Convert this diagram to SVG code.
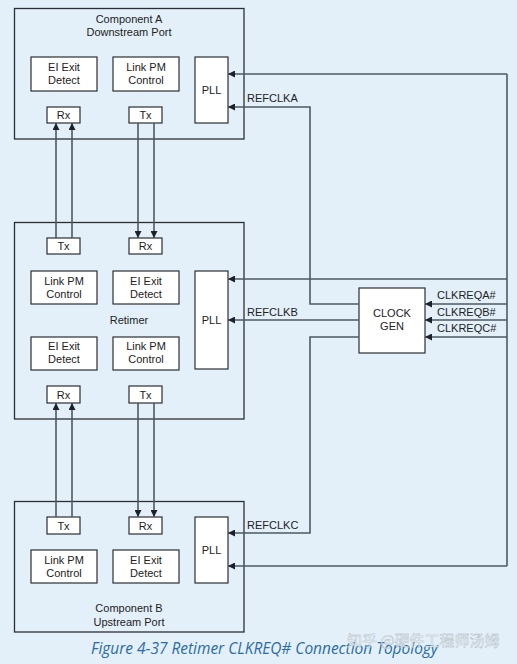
<svg xmlns="http://www.w3.org/2000/svg" width="517" height="664" viewBox="0 0 517 664">
<style>
.t{font-family:"Liberation Sans",Arial,sans-serif;font-size:11px;fill:#222;text-anchor:middle}
.l{font-family:"Liberation Sans",Arial,sans-serif;font-size:11px;fill:#222}
.outer{fill:none;stroke:#2b2f33;stroke-width:1.3}
.box{fill:#ffffff;stroke:#2b2f33;stroke-width:1.2}
.w{fill:none;stroke:#4f5962;stroke-width:1.6}
.wa{fill:none;stroke:#4f5962;stroke-width:1.6;marker-end:url(#ah)}
</style>
<defs>
<marker id="ah" markerUnits="userSpaceOnUse" markerWidth="8" markerHeight="7" refX="7" refY="3.5" orient="auto">
<path d="M0,0 L7,3.5 L0,7 Z" fill="#1e2226"/>
</marker>
</defs>
<rect x="0" y="0" width="517" height="664" fill="#e3f0fa"/>

<g id="componentA">
<rect class="outer" x="14.5" y="8.5" width="229.5" height="130.5"/>
<text class="t" x="129" y="22.5">Component A</text>
<text class="t" x="129" y="35.5">Downstream Port</text>
</g>
<g id="A-eiexit"><rect class="box" x="31" y="57" width="66" height="34"/><text class="t" x="64" y="71">EI Exit</text><text class="t" x="64" y="84">Detect</text></g>
<g id="A-linkpm"><rect class="box" x="113" y="57" width="66" height="34"/><text class="t" x="146" y="71">Link PM</text><text class="t" x="146" y="84">Control</text></g>
<g id="A-pll"><rect class="box" x="195" y="57" width="33" height="66"/><text class="t" x="211.5" y="94">PLL</text></g>
<g id="A-rx"><rect class="box" x="47" y="107" width="33" height="16"/><text class="t" x="63.5" y="119">Rx</text></g>
<g id="A-tx"><rect class="box" x="129" y="107" width="33" height="16"/><text class="t" x="145.5" y="119">Tx</text></g>

<g id="retimer">
<rect class="outer" x="14.5" y="222.5" width="229.5" height="196.5"/>
<text class="t" x="129" y="324">Retimer</text>
</g>
<g id="R-tx-top"><rect class="box" x="47" y="238" width="33" height="16"/><text class="t" x="63.5" y="250">Tx</text></g>
<g id="R-rx-top"><rect class="box" x="129" y="238" width="33" height="16"/><text class="t" x="145.5" y="250">Rx</text></g>
<g id="R-linkpm-top"><rect class="box" x="31" y="271" width="66" height="33"/><text class="t" x="64" y="285">Link PM</text><text class="t" x="64" y="298">Control</text></g>
<g id="R-eiexit-top"><rect class="box" x="113" y="271" width="66" height="33"/><text class="t" x="146" y="285">EI Exit</text><text class="t" x="146" y="298">Detect</text></g>
<g id="R-pll"><rect class="box" x="195" y="271" width="33" height="98"/><text class="t" x="211.5" y="324">PLL</text></g>
<g id="R-eiexit-bot"><rect class="box" x="31" y="337" width="66" height="33"/><text class="t" x="64" y="350">EI Exit</text><text class="t" x="64" y="363">Detect</text></g>
<g id="R-linkpm-bot"><rect class="box" x="113" y="337" width="66" height="33"/><text class="t" x="146" y="350">Link PM</text><text class="t" x="146" y="363">Control</text></g>
<g id="R-rx-bot"><rect class="box" x="47" y="386" width="33" height="17"/><text class="t" x="63.5" y="398.5">Rx</text></g>
<g id="R-tx-bot"><rect class="box" x="129" y="386" width="33" height="17"/><text class="t" x="145.5" y="398.5">Tx</text></g>

<g id="componentB">
<rect class="outer" x="14.5" y="501.5" width="229.5" height="130.5"/>
<text class="t" x="129" y="612">Component B</text>
<text class="t" x="129" y="626">Upstream Port</text>
</g>
<g id="B-tx"><rect class="box" x="47" y="517" width="33" height="17"/><text class="t" x="63.5" y="530">Tx</text></g>
<g id="B-rx"><rect class="box" x="129" y="517" width="33" height="17"/><text class="t" x="145.5" y="530">Rx</text></g>
<g id="B-linkpm"><rect class="box" x="31" y="550" width="66" height="33"/><text class="t" x="64" y="564">Link PM</text><text class="t" x="64" y="577">Control</text></g>
<g id="B-eiexit"><rect class="box" x="113" y="550" width="66" height="33"/><text class="t" x="146" y="564">EI Exit</text><text class="t" x="146" y="577">Detect</text></g>
<g id="B-pll"><rect class="box" x="195" y="517" width="33" height="66"/><text class="t" x="211.5" y="554">PLL</text></g>

<g id="clockgen"><rect class="box" x="359" y="288" width="66" height="65"/><text class="t" x="392" y="317">CLOCK</text><text class="t" x="392" y="330">GEN</text></g>

<g id="connectors">
<line class="wa" x1="56" y1="238" x2="56" y2="123"/>
<line class="wa" x1="72" y1="238" x2="72" y2="123"/>
<line class="wa" x1="138" y1="123" x2="138" y2="238"/>
<line class="wa" x1="154" y1="123" x2="154" y2="238"/>
<line class="wa" x1="56" y1="517" x2="56" y2="403"/>
<line class="wa" x1="72" y1="517" x2="72" y2="403"/>
<line class="wa" x1="138" y1="403" x2="138" y2="517"/>
<line class="wa" x1="154" y1="403" x2="154" y2="517"/>
<polyline class="w" points="507,566 507,74"/>
<line class="wa" x1="507" y1="74" x2="228" y2="74"/>
<line class="wa" x1="507" y1="279" x2="228" y2="279"/>
<line class="wa" x1="507" y1="566" x2="228" y2="566"/>
<polyline class="wa" points="359,304 310,304 310,107 228,107"/>
<line class="wa" x1="359" y1="320" x2="228" y2="320"/>
<polyline class="wa" points="359,337 310,337 310,533 228,533"/>
<line class="wa" x1="507" y1="304" x2="425" y2="304"/>
<line class="wa" x1="507" y1="320" x2="425" y2="320"/>
<line class="wa" x1="507" y1="337" x2="425" y2="337"/>
</g>

<text class="l" x="247" y="102">REFCLKA</text>
<text class="l" x="247" y="316">REFCLKB</text>
<text class="l" x="247" y="529">REFCLKC</text>
<text class="l" x="437" y="299">CLKREQA#</text>
<text class="l" x="437" y="316">CLKREQB#</text>
<text class="l" x="437" y="332">CLKREQC#</text>

<text x="91" y="654" textLength="347" lengthAdjust="spacingAndGlyphs" font-family="'Open Sans','Noto Sans',sans-serif" font-style="italic" font-size="15.5" fill="#2b6ca3">Figure 4-37 Retimer CLKREQ# Connection Topology</text>
<text x="347" y="646" font-family="'Noto Sans CJK SC',sans-serif" font-size="15" fill="#f2f6f9" stroke="#a9b3bb" stroke-width="0.4" opacity="0.9">知乎 @硬件工程师汤姆</text>
</svg>
